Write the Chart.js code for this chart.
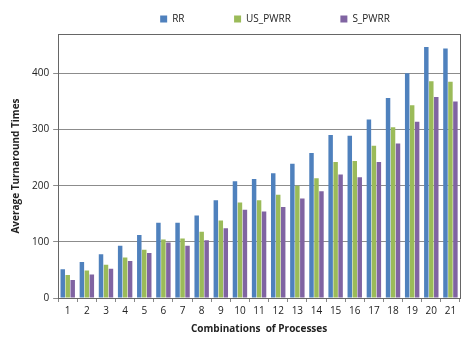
<!DOCTYPE html>
<html>
<head>
<meta charset="utf-8">
<script src="https://cdn.jsdelivr.net/npm/chart.js@4"></script>
<style>
    html, body { margin: 0; padding: 0; background: #fff; }
    #wrap { width: 474px; height: 353px; position: relative; }
</style>
</head>
<body>
<div id="wrap"><canvas id="turnaroundChart"></canvas></div>
<script>
// Données
const categories = ['1','2','3','4','5','6','7','8','9','10','11','12','13','14','15','16','17','18','19','20','21'];
const rrValues     = [51, 64, 78, 93, 112, 134, 134, 147, 174, 208, 212, 222, 239, 258, 290, 289, 318, 356, 400, 447, 444];
const usPwrrValues = [41, 49, 59, 72, 86, 104, 106, 118, 138, 170, 174, 184, 200, 213, 242, 244, 271, 304, 343, 386, 385];
const sPwrrValues  = [32, 42, 52, 66, 80, 99, 93, 103, 124, 157, 154, 162, 177, 190, 220, 215, 242, 275, 314, 358, 350];
const yTicks = [0, 100, 200, 300, 400];

const font = { family: 'Open Sans, Liberation Sans, sans-serif', size: 10 };

// Cadre autour de la zone de tracé + décalage de la légende
const framePlugin = {
    id: 'frame',
    afterLayout(chart) {
        chart.legend.left += 42;
        chart.legend.right += 42;
    },
    afterDraw(chart) {
        const a = chart.chartArea;
        const ctx = chart.ctx;
        ctx.save();
        ctx.strokeStyle = '#666';
        ctx.lineWidth = 1;
        ctx.strokeRect(Math.round(a.left) + 0.5, Math.round(a.top) + 0.5,
                       Math.round(a.right - a.left), Math.round(a.bottom - a.top));
        ctx.restore();
    }
};

document.addEventListener('DOMContentLoaded', function() {
    const ctx = document.getElementById('turnaroundChart');
    new Chart(ctx, {
        type: 'bar',
        data: {
            labels: categories,
            datasets: [
                { label: 'RR', data: rrValues, backgroundColor: '#4F81BD' },
                { label: 'US_PWRR', data: usPwrrValues, backgroundColor: '#9BBB59' },
                { label: 'S_PWRR', data: sPwrrValues, backgroundColor: '#8064A2' }
            ]
        },
        options: {
            responsive: true,
            maintainAspectRatio: false,
            animation: false,
            datasets: {
                bar: { categoryPercentage: 0.78, barPercentage: 0.9 }
            },
            layout: { padding: { left: 6, right: 14, top: 6, bottom: 14 } },
            plugins: {
                legend: {
                    position: 'top',
                    labels: {
                        font: font,
                        color: '#222',
                        boxWidth: 7,
                        boxHeight: 7,
                        padding: 8,
                        // espaces pour écarter les entrées comme dans Excel
                        generateLabels: function(chart) {
                            const items = Chart.defaults.plugins.legend.labels.generateLabels(chart);
                            items.forEach((item, i) => {
                                if (i < items.length - 1) item.text += ' '.repeat(16);
                            });
                            return items;
                        }
                    }
                },
                tooltip: { enabled: false }
            },
            scales: {
                x: {
                    grid: {
                        offset: true,
                        drawOnChartArea: false,
                        drawTicks: true,
                        tickLength: 4,
                        color: '#888'
                    },
                    border: { color: '#666' },
                    ticks: { font: font, color: '#222', maxRotation: 0, autoSkip: false },
                    title: {
                        display: true,
                        text: 'Combinations  of Processes',
                        font: { family: font.family, size: 10, weight: 'bold' },
                        color: '#222',
                        padding: { top: 3 }
                    }
                },
                y: {
                    min: 0,
                    max: 470,
                    afterBuildTicks: function(axis) {
                        axis.ticks = yTicks.map(v => ({ value: v }));
                    },
                    grid: { color: '#8c8c8c', tickLength: 5 },
                    border: { color: '#666' },
                    ticks: { font: font, color: '#222', padding: 4 },
                    title: {
                        display: true,
                        text: 'Average Turnaround Times',
                        font: { family: font.family, size: 10, weight: 'bold' },
                        color: '#222',
                        padding: { bottom: 6 }
                    }
                }
            }
        },
        plugins: [framePlugin]
    });
});
</script>
</body>
</html>
